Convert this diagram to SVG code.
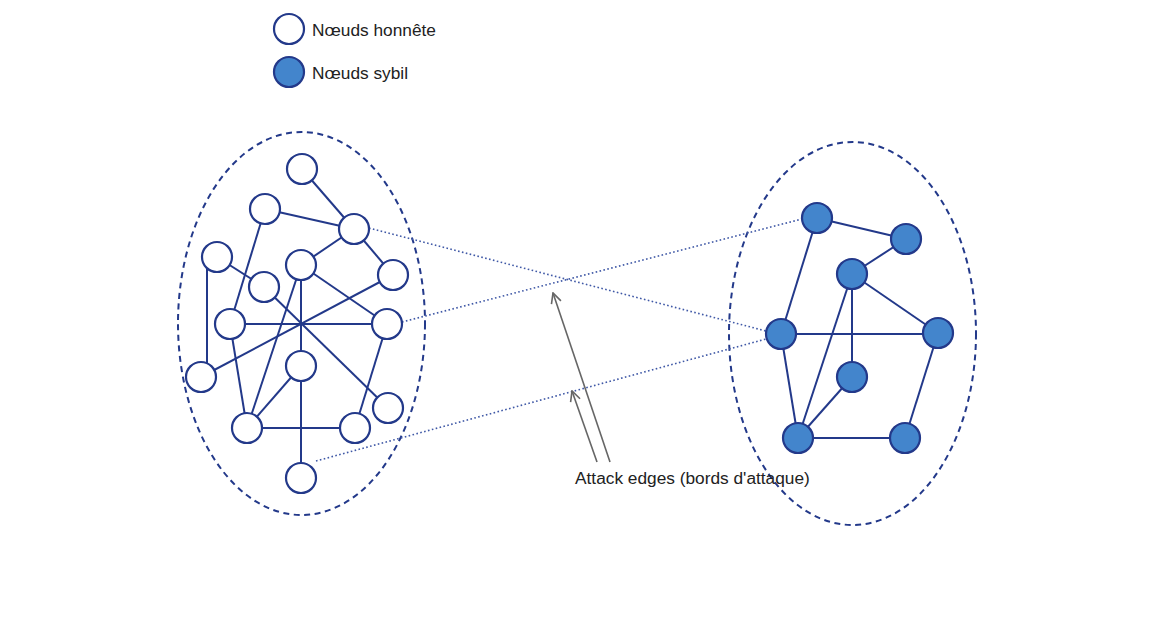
<svg xmlns="http://www.w3.org/2000/svg" width="1160" height="636" viewBox="0 0 1160 636">
<defs>
<style>
.hn{fill:#fff;stroke:#23398a;stroke-width:2.2}
.sy{fill:#4385cc;stroke:#23398a;stroke-width:2.2}
.e{stroke:#23398a;stroke-width:2;fill:none}
.at{stroke:#3f58a6;stroke-width:1.6;stroke-dasharray:1.6 2.4;fill:none}
.ell{fill:none;stroke:#23398a;stroke-width:2;stroke-dasharray:6 4.5}
.ar{stroke:#666;stroke-width:1.6;fill:none}
.t{font-family:"Liberation Sans",Arial,sans-serif;font-size:17.3px;fill:#222}
</style>
<marker id="ah" viewBox="0 0 12 12" refX="11" refY="6" markerWidth="12" markerHeight="12" markerUnits="userSpaceOnUse" orient="auto">
<path d="M1,1 L11,6 L1,11" fill="none" stroke="#666" stroke-width="1.6"/>
</marker>
</defs>
<rect width="1160" height="636" fill="#fff"/>
<g id="legend">
<circle class="hn" cx="289" cy="29" r="15"/>
<text class="t" x="312" y="36">Nœuds honnête</text>
<circle class="sy" cx="289" cy="72" r="15"/>
<text class="t" x="312" y="79">Nœuds sybil</text>
</g>
<g id="clusters">
<ellipse class="ell" cx="301.5" cy="323.5" rx="123.5" ry="191.5"/>
<ellipse class="ell" cx="852.5" cy="333.5" rx="123.5" ry="191.5"/>
</g>
<g id="connectors">
<line class="e" x1="302" y1="169" x2="354" y2="229"/>
<line class="e" x1="265" y1="209" x2="354" y2="229"/>
<line class="e" x1="354" y1="229" x2="301" y2="265"/>
<line class="e" x1="354" y1="229" x2="393" y2="275"/>
<line class="e" x1="265" y1="209" x2="230" y2="324"/>
<line class="e" x1="217" y1="257" x2="264" y2="287"/>
<line class="e" x1="207" y1="268" x2="207" y2="366"/>
<line class="e" x1="264" y1="287" x2="388" y2="408"/>
<line class="e" x1="230" y1="324" x2="387" y2="324"/>
<line class="e" x1="301" y1="265" x2="301" y2="366"/>
<line class="e" x1="393" y1="275" x2="201" y2="377"/>
<line class="e" x1="301" y1="265" x2="247" y2="428"/>
<line class="e" x1="301" y1="265" x2="387" y2="324"/>
<line class="e" x1="230" y1="324" x2="247" y2="428"/>
<line class="e" x1="387" y1="324" x2="355" y2="428"/>
<line class="e" x1="301" y1="366" x2="247" y2="428"/>
<line class="e" x1="247" y1="428" x2="355" y2="428"/>
<line class="e" x1="301" y1="366" x2="301" y2="478"/>
<line class="e" x1="817" y1="218" x2="906" y2="239"/>
<line class="e" x1="906" y1="239" x2="852" y2="274"/>
<line class="e" x1="817" y1="218" x2="781" y2="334"/>
<line class="e" x1="852" y1="274" x2="938" y2="333"/>
<line class="e" x1="852" y1="274" x2="852" y2="377"/>
<line class="e" x1="852" y1="274" x2="798" y2="438"/>
<line class="e" x1="781" y1="334" x2="938" y2="334"/>
<line class="e" x1="781" y1="334" x2="798" y2="438"/>
<line class="e" x1="852" y1="377" x2="798" y2="438"/>
<line class="e" x1="798" y1="438" x2="905" y2="438"/>
<line class="e" x1="938" y1="333" x2="905" y2="438"/>
<line class="at" x1="369" y1="228" x2="766" y2="331"/>
<line class="at" x1="402" y1="322" x2="802" y2="219"/>
<line class="at" x1="316" y1="461" x2="766" y2="339"/>
<line class="ar" x1="610" y1="462" x2="553" y2="293" marker-end="url(#ah)"/>
<line class="ar" x1="597" y1="462" x2="572" y2="391" marker-end="url(#ah)"/>
</g>
<g id="honest-nodes">
<circle id="h1" class="hn" cx="302" cy="169" r="15"/>
<circle id="h2" class="hn" cx="265" cy="209" r="15"/>
<circle id="h3" class="hn" cx="354" cy="229" r="15"/>
<circle id="h4" class="hn" cx="217" cy="257" r="15"/>
<circle id="h5" class="hn" cx="301" cy="265" r="15"/>
<circle id="h6" class="hn" cx="264" cy="287" r="15"/>
<circle id="h7" class="hn" cx="393" cy="275" r="15"/>
<circle id="h8" class="hn" cx="230" cy="324" r="15"/>
<circle id="h9" class="hn" cx="387" cy="324" r="15"/>
<circle id="h10" class="hn" cx="201" cy="377" r="15"/>
<circle id="h11" class="hn" cx="301" cy="366" r="15"/>
<circle id="h12" class="hn" cx="388" cy="408" r="15"/>
<circle id="h13" class="hn" cx="247" cy="428" r="15"/>
<circle id="h14" class="hn" cx="355" cy="428" r="15"/>
<circle id="h15" class="hn" cx="301" cy="478" r="15"/>
</g>
<g id="sybil-nodes">
<circle id="s1" class="sy" cx="817" cy="218" r="15"/>
<circle id="s2" class="sy" cx="906" cy="239" r="15"/>
<circle id="s3" class="sy" cx="852" cy="274" r="15"/>
<circle id="s4" class="sy" cx="781" cy="334" r="15"/>
<circle id="s5" class="sy" cx="938" cy="333" r="15"/>
<circle id="s6" class="sy" cx="852" cy="377" r="15"/>
<circle id="s7" class="sy" cx="798" cy="438" r="15"/>
<circle id="s8" class="sy" cx="905" cy="438" r="15"/>
</g>
<g id="label">
<text class="t" x="575" y="484">Attack edges (bords d'attaque)</text>
</g>
</svg>
